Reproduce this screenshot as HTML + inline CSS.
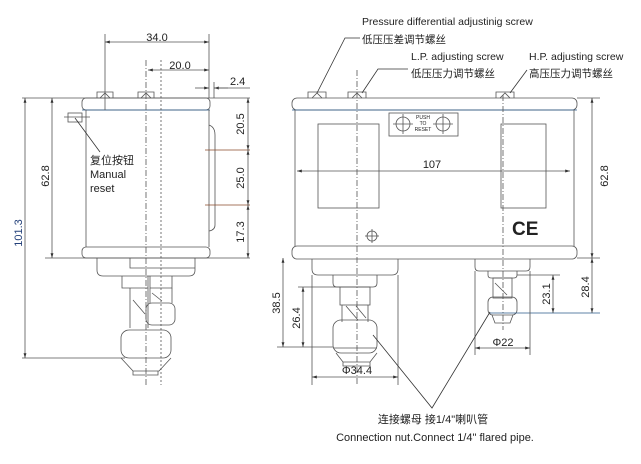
<!DOCTYPE html>
<html><head><meta charset="utf-8"><style>
body{margin:0;background:#fff}
svg{display:block}
text{font-family:"Liberation Sans","Noto Sans CJK SC",sans-serif;fill:#222}
</style></head><body>
<svg width="641" height="464" viewBox="0 0 641 464" xmlns="http://www.w3.org/2000/svg">
<defs>
<marker id="a" viewBox="0 0 10 10" refX="10" refY="5" markerWidth="6" markerHeight="6" orient="auto-start-reverse"><path d="M0,2 L10,5 L0,8z" fill="#333"/></marker>
</defs>
<g fill="none" stroke="#555" stroke-width="0.8">
<!-- LEFT VIEW -->
<rect x="82" y="98" width="128" height="12" rx="4"/>
<line x1="82" y1="110" x2="210" y2="110" stroke="#2a5a8a"/>
<line x1="86" y1="110" x2="86" y2="247"/>
<line x1="209" y1="110" x2="209" y2="247"/>
<rect x="82" y="247" width="128" height="11" rx="4"/>
<path d="M209 125 Q215 127 215 135 L215 225 Q215 230 209 231"/>
<rect x="68" y="113" width="14" height="9"/>
<line x1="64" y1="117" x2="90" y2="117"/>
<line x1="75" y1="118" x2="100" y2="152" stroke="#333"/>
<path d="M97 98 v-6 h16 v6 M100 98 l5 -5 l5 5"/>
<path d="M138 98 v-6 h16 v6 M141 98 l5 -5 l5 5"/>
<path d="M97 258 v12 q0 6 6 6 h86 q6 0 6 -6 v-12"/>
<path d="M130 258 v10 h65"/>
<path d="M122 276 v12 h26 v-12"/>
<path d="M150 276 v12 h22 v-12"/>
<path d="M130 288 v40 M148 288 v40 M133 300 l12 14"/>
<path d="M150 288 v15 M172 288 v15 M152 293 l10 8"/>
<rect x="146" y="303" width="29" height="22" rx="6"/>
<rect x="121" y="330" width="50" height="28" rx="8"/>
<path d="M121 358 l12 13 h26 l12 -13 M133 371 v4 h25 v-4"/>
<line x1="146" y1="60" x2="146" y2="385" stroke-dasharray="6 2 1 2"/>
<line x1="161" y1="60" x2="161" y2="385" stroke-dasharray="2 2"/>
<!-- left dims -->
<line x1="105" y1="34" x2="105" y2="110"/>
<line x1="209" y1="34" x2="209" y2="98"/>
<line x1="105" y1="42" x2="209" y2="42" marker-start="url(#a)" marker-end="url(#a)"/>
<line x1="148" y1="70" x2="209" y2="70" marker-start="url(#a)" marker-end="url(#a)"/>
<line x1="214" y1="82" x2="214" y2="98"/>
<line x1="195" y1="88" x2="209" y2="88" marker-end="url(#a)"/>
<line x1="228" y1="88" x2="214" y2="88" marker-end="url(#a)"/>
<line x1="214" y1="88" x2="250" y2="88"/>
<line x1="22" y1="98" x2="250" y2="98"/>
<line x1="45" y1="258" x2="250" y2="258"/>
<line x1="22" y1="358" x2="125" y2="358"/>
<line x1="205" y1="150" x2="250" y2="150" stroke="#8a4a2a"/>
<line x1="205" y1="205" x2="250" y2="205" stroke="#8a4a2a"/>
<line x1="248" y1="98" x2="248" y2="150" marker-start="url(#a)" marker-end="url(#a)"/>
<line x1="248" y1="150" x2="248" y2="205" marker-start="url(#a)" marker-end="url(#a)"/>
<line x1="248" y1="205" x2="248" y2="258" marker-start="url(#a)" marker-end="url(#a)"/>
<line x1="52" y1="98" x2="52" y2="258" marker-start="url(#a)" marker-end="url(#a)"/>
<line x1="25" y1="98" x2="25" y2="358" marker-start="url(#a)" marker-end="url(#a)"/>

<!-- RIGHT VIEW -->
<rect x="292" y="98" width="285" height="12" rx="5"/>
<line x1="292" y1="110" x2="577" y2="110" stroke="#2a5a8a"/>
<line x1="295" y1="110" x2="295" y2="246"/>
<line x1="574" y1="110" x2="574" y2="246"/>
<rect x="292" y="246" width="285" height="13" rx="5"/>
<rect x="318" y="124" width="61" height="84"/>
<rect x="501" y="124" width="45" height="84"/>
<rect x="389" y="113" width="69" height="23"/>
<circle cx="403" cy="124" r="7"/><line x1="393" y1="124" x2="413" y2="124"/><line x1="403" y1="114" x2="403" y2="134"/>
<circle cx="443" cy="124" r="7"/><line x1="433" y1="124" x2="453" y2="124"/><line x1="443" y1="114" x2="443" y2="134"/>
<circle cx="372" cy="236" r="5"/><line x1="365" y1="236" x2="379" y2="236"/><line x1="372" y1="229" x2="372" y2="243"/>
<path d="M308 98 v-6 h18 v6 M312 98 l5 -5 l5 5"/>
<path d="M348 98 v-6 h18 v6 M352 98 l5 -5 l5 5"/>
<path d="M496 98 v-6 h18 v6 M500 98 l5 -5 l5 5"/>
<line x1="297" y1="171" x2="570" y2="171" marker-start="url(#a)" marker-end="url(#a)"/>
<line x1="357" y1="70" x2="357" y2="385" stroke-dasharray="6 2 1 2"/>
<line x1="503" y1="95" x2="503" y2="330" stroke-dasharray="6 2 1 2"/>
<!-- leaders top -->
<path d="M360 38 h-15 l-28 55" stroke="#333"/>
<path d="M408 69 h-30 l-16 24" stroke="#333"/>
<path d="M527 70 l-17 23" stroke="#333"/>
<!-- right dims -->
<line x1="577" y1="98" x2="600" y2="98"/>
<line x1="577" y1="258" x2="600" y2="258"/>
<line x1="592" y1="98" x2="592" y2="258" marker-start="url(#a)" marker-end="url(#a)"/>
<!-- left fitting -->
<path d="M312 259 v10 q0 6 6 6 h74 q6 0 6 -6 v-10"/>
<path d="M333 275 v8 q0 4 4 4 h36 q4 0 4 -4 v-8"/>
<rect x="340" y="287" width="30" height="18"/>
<path d="M342 305 v17 M368 305 v17 M346 306 l12 14 M356 306 l10 12"/>
<rect x="333" y="320" width="44" height="33" rx="8"/>
<path d="M333 348 h44 M336 353 l7 9 h27 l7 -9 M343 362 v4 h27 v-4"/>
<line x1="312" y1="275" x2="312" y2="385"/>
<line x1="398" y1="275" x2="398" y2="385"/>
<line x1="312" y1="377" x2="398" y2="377" marker-start="url(#a)" marker-end="url(#a)"/>
<line x1="277" y1="347" x2="333" y2="347"/>
<line x1="298" y1="287" x2="340" y2="287"/>
<line x1="283" y1="258" x2="283" y2="347" marker-start="url(#a)" marker-end="url(#a)"/>
<line x1="303" y1="287" x2="303" y2="347" marker-start="url(#a)" marker-end="url(#a)"/>
<!-- right fitting -->
<path d="M475 259 v8 q0 4 4 4 h47 q4 0 4 -4 v-8"/>
<path d="M488 271 v4 q0 3 3 3 h23 q3 0 3 -3 v-4"/>
<rect x="493" y="278" width="19" height="20"/>
<path d="M495 283 l12 12"/>
<rect x="488" y="297" width="29" height="18" rx="5"/>
<path d="M492 315 l3 8 h15 l3 -8"/>
<line x1="490" y1="313" x2="600" y2="313" stroke="#2a5a8a"/>
<line x1="517" y1="275" x2="560" y2="275"/>
<line x1="475" y1="271" x2="475" y2="355"/>
<line x1="530" y1="271" x2="530" y2="355"/>
<line x1="475" y1="348" x2="530" y2="348" marker-start="url(#a)" marker-end="url(#a)"/>
<line x1="553" y1="275" x2="553" y2="313" marker-start="url(#a)" marker-end="url(#a)"/>
<line x1="592" y1="258" x2="592" y2="313" marker-start="url(#a)" marker-end="url(#a)"/>
<path d="M373 335 L432 408 L490 312" stroke="#333"/>
</g>
<!-- text -->
<g font-size="11">
<text x="157" y="41" text-anchor="middle">34.0</text>
<text x="180" y="69" text-anchor="middle">20.0</text>
<text x="230" y="85">2.4</text>
<text transform="translate(244,124) rotate(-90)" text-anchor="middle">20.5</text>
<text transform="translate(244,178) rotate(-90)" text-anchor="middle">25.0</text>
<text transform="translate(244,232) rotate(-90)" text-anchor="middle">17.3</text>
<text transform="translate(49,176) rotate(-90)" text-anchor="middle">62.8</text>
<text transform="translate(22,233) rotate(-90)" text-anchor="middle" fill="#23407a" style="fill:#23407a">101.3</text>
<text x="90" y="164">复位按钮</text>
<text x="90" y="178">Manual</text>
<text x="90" y="192">reset</text>
<text x="362" y="25" font-size="10.5">Pressure differential adjustinig screw</text>
<text x="362" y="43" font-size="10.5">低压压差调节螺丝</text>
<text x="411" y="60" font-size="10.5">L.P. adjusting screw</text>
<text x="411" y="77" font-size="10.5">低压压力调节螺丝</text>
<text x="529" y="60" font-size="10.5">H.P. adjusting screw</text>
<text x="529" y="77" font-size="10.5">高压压力调节螺丝</text>
<text x="432" y="168" text-anchor="middle">107</text>
<text transform="translate(608,176) rotate(-90)" text-anchor="middle">62.8</text>
<text x="423" y="119" font-size="5" text-anchor="middle">PUSH</text>
<text x="423" y="125" font-size="5" text-anchor="middle">TO</text>
<text x="423" y="131" font-size="5" text-anchor="middle">RESET</text>
<text x="512" y="235" font-size="19" font-weight="bold">CE</text>
<text transform="translate(280,303) rotate(-90)" text-anchor="middle">38.5</text>
<text transform="translate(300,318) rotate(-90)" text-anchor="middle">26.4</text>
<text x="357" y="374" text-anchor="middle">Φ34.4</text>
<text transform="translate(550,294) rotate(-90)" text-anchor="middle">23.1</text>
<text transform="translate(589,287) rotate(-90)" text-anchor="middle">28.4</text>
<text x="503" y="346" text-anchor="middle">Φ22</text>
<text x="433" y="423" text-anchor="middle">连接螺母 接1/4"喇叭管</text>
<text x="435" y="441" text-anchor="middle">Connection nut.Connect 1/4" flared pipe.</text>
</g>
</svg>
</body></html>
